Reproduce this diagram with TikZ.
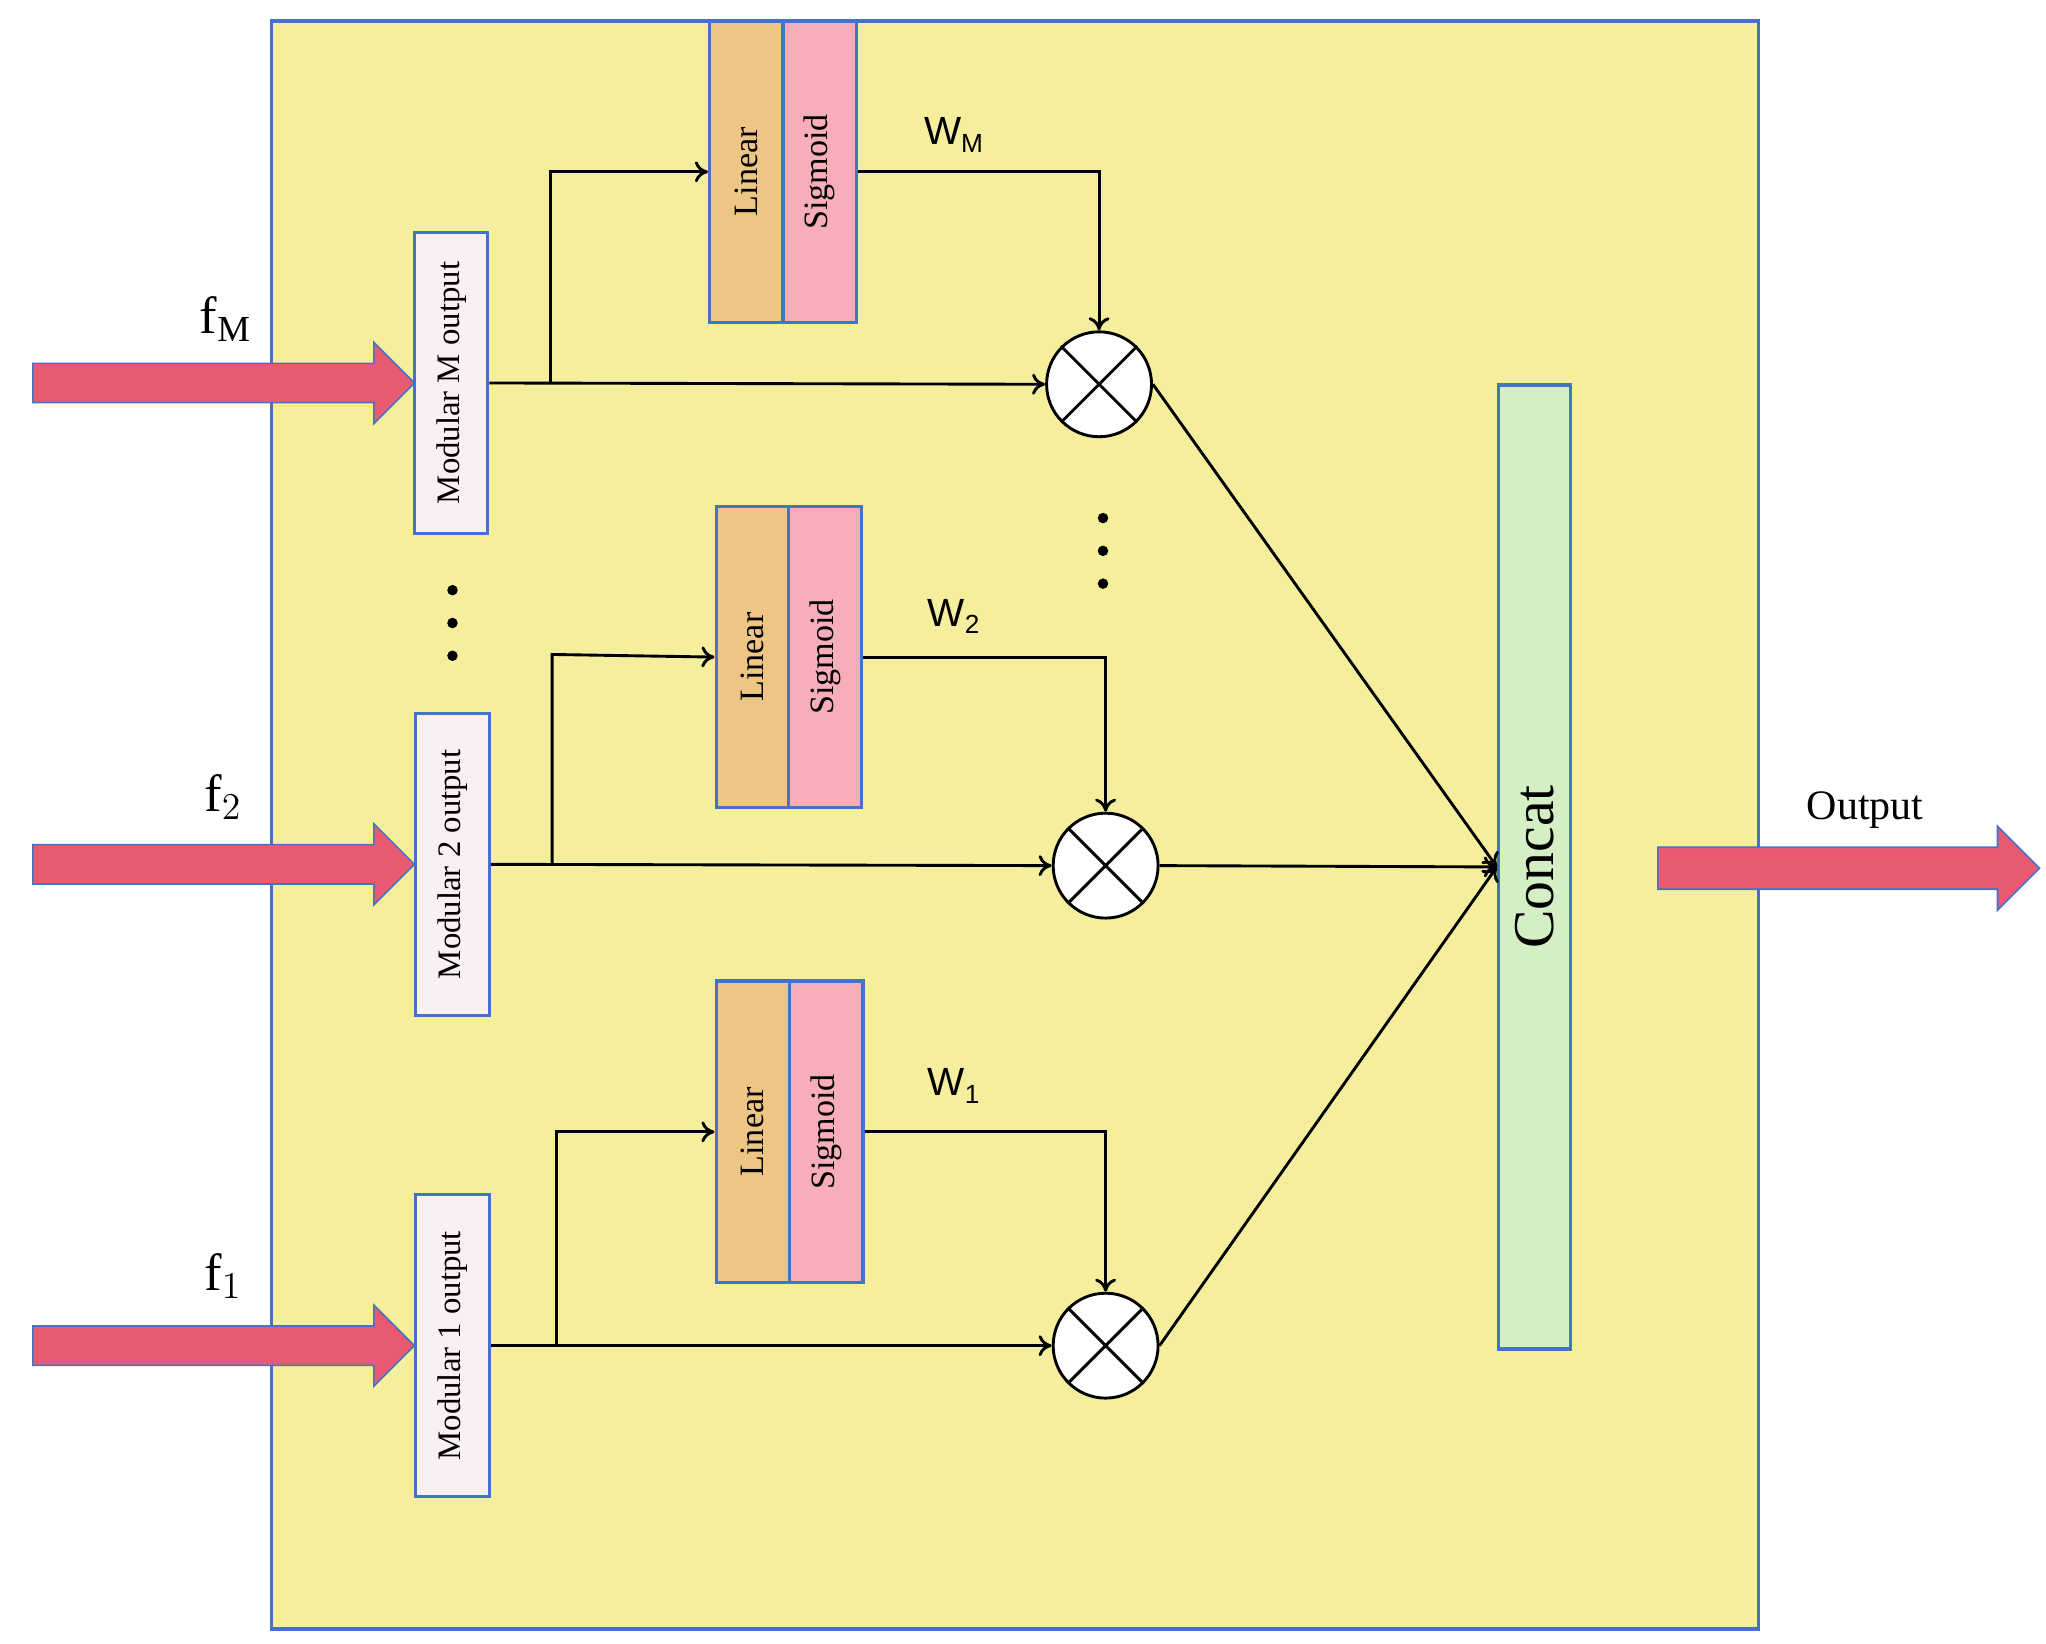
\documentclass[tikz,border=0pt]{standalone}
\usepackage{fontspec}
\setmainfont{Liberation Serif}
\newfontfamily\sansf{Liberation Sans}
\usetikzlibrary{arrows.meta}
\definecolor{bg}{HTML}{F5EE9C}
\definecolor{bl}{HTML}{4472C4}
\definecolor{lin}{HTML}{EDC585}
\definecolor{sig}{HTML}{F7AEB8}
\definecolor{modc}{HTML}{FAF0F2}
\definecolor{conc}{HTML}{D5EFC5}
\definecolor{red}{HTML}{E85A71}
\newcommand{\wlab}[1]{W\raisebox{-0.35ex}{\fontsize{10}{10}\selectfont #1}}
\begin{document}
\begin{tikzpicture}[x=0.5pt,y=-0.5pt,
 box/.style={draw=bl,line width=1.2pt,inner sep=0pt,anchor=center},
 mod/.style={box,fill=modc,minimum width=28pt,minimum height=115pt},
 lin/.style={box,fill=lin,minimum width=28pt,minimum height=115pt},
 sig/.style={box,fill=sig,minimum width=28pt,minimum height=115pt},
 mul/.style={draw,line width=1.1pt,fill=white,circle,minimum size=40pt,inner sep=0pt},
 con/.style={line width=1.1pt,-{To[length=5pt,width=8pt]}},
 big/.style={fill=red,draw=bl,line width=0.6pt},
 wl/.style={font=\sansf\fontsize{15}{15}\selectfont},
 dot/.style={circle,fill=black,inner sep=0pt,minimum size=4pt}]
\useasboundingbox (0,0) rectangle (1560,1253);
\node[draw=bl,fill=bg,line width=1.2pt,minimum width=567pt,minimum height=613pt,inner sep=0pt] (frame) at (774,629) {};
% input arrows
\foreach \y in {292,659,1026}{
 \draw[big] (25,\y-15) -- (285,\y-15) -- (285,\y-31) -- (316,\y) -- (285,\y+31) -- (285,\y+15) -- (25,\y+15) -- cycle;
}
\draw[big] (1264,646) -- (1523,646) -- (1523,630) -- (1555,662) -- (1523,694) -- (1523,678) -- (1264,678) -- cycle;
\node[font=\fontsize{16}{16}\selectfont] (out) at (1422,618) {Output};
\node[font=\fontsize{20}{20}\selectfont] (fM) at (172,243) {f$_{\mathrm{M}}$};
\node[font=\fontsize{20}{20}\selectfont] (f2) at (170,608) {f$_{2}$};
\node[font=\fontsize{20}{20}\selectfont] (f1) at (170,973) {f$_{1}$};
% modular
\node[mod] (mM) at (344,292) {\rotatebox{90}{\fontsize{12.5}{12.5}\selectfont Modular M output}};
\node[mod] (m2) at (345,659) {\rotatebox{90}{\fontsize{12.5}{12.5}\selectfont Modular 2 output}};
\node[mod] (m1) at (345,1026) {\rotatebox{90}{\fontsize{12.5}{12.5}\selectfont Modular 1 output}};
% linear/sigmoid
\node[lin] (lM) at (569,131) {\rotatebox{90}{\fontsize{13}{13}\selectfont Linear}};
\node[sig] (sM) at (625,131) {\rotatebox{90}{\fontsize{13}{13}\selectfont Sigmoid}};
\node[lin] (l2) at (574,501) {\rotatebox{90}{\fontsize{13}{13}\selectfont Linear}};
\node[sig] (s2) at (629,501) {\rotatebox{90}{\fontsize{13}{13}\selectfont Sigmoid}};
\node[lin] (l1) at (574,863) {\rotatebox{90}{\fontsize{13}{13}\selectfont Linear}};
\node[sig] (s1) at (630,863) {\rotatebox{90}{\fontsize{13}{13}\selectfont Sigmoid}};
% multipliers
\foreach \n/\x/\y in {xM/838/293,x2/843/660,x1/843/1026}{
 \node[mul] (\n) at (\x,\y) {};
 \draw[line width=1.1pt] (\n.north east) -- (\n.south west) (\n.north west) -- (\n.south east);
}
\node[box,fill=conc,minimum width=27.5pt,minimum height=367.5pt] (cc) at (1170,661) {\rotatebox{90}{\fontsize{22}{22}\selectfont Concat}};
% weights labels
\node[wl] (wM) at (727,103) {\wlab{M}};
\node[wl] (w2) at (727,470) {\wlab{2}};
\node[wl] (w1) at (727,828) {\wlab{1}};
% connections
\draw[con] (mM.east) -- (xM.west);
\draw[con] (m2.east) -- (x2.west);
\draw[con] (m1.east) -- (x1.west);
\draw[con] (420,292) -- (420,131) -- (lM.west);
\draw[con] (421,659) -- (421,499) -- (l2.west);
\draw[con] (424,1026) -- (424,863) -- (l1.west);
\draw[con] (sM.east) -| (xM.north);
\draw[con] (s2.east) -| (x2.north);
\draw[con] (s1.east) -| (x1.north);
\draw[con] (xM.east) -- (cc.west);
\draw[con] (x2.east) -- (cc.west);
\draw[con] (x1.east) -- (cc.west);
% dots
\foreach \y in {450,475,500}{\node[dot] at (345,\y) {};}
\foreach \y in {395,420,445}{\node[dot] at (841,\y) {};}
\end{tikzpicture}
\end{document}
